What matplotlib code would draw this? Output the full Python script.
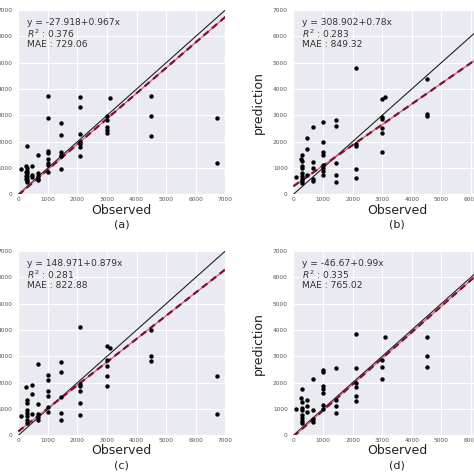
import numpy as np
import matplotlib
matplotlib.use('Agg')
import matplotlib.pyplot as plt
import seaborn as sns

sns.set_style('darkgrid')
plt.rcParams['font.family'] = ['DejaVu Sans']

# observed / predicted values
obs_a = [100, 250, 250, 250, 250, 300, 300, 300, 300, 300, 300, 300, 300,
         450, 450, 450, 650, 650, 650, 650, 650,
         1000, 1000, 1000, 1000, 1000, 1000, 1000, 1000,
         1450, 1450, 1450, 1450, 1450, 1450,
         2100, 2100, 2100, 2100, 2100, 2100, 2100,
         3000, 3000, 3000, 3000, 3000, 3100, 4500, 4500, 4500, 6700, 6700]
pred_a = [950, 1090, 850, 700, 600, 1840, 1000, 900, 800, 700, 600, 500, 450,
          1090, 730, 650, 1500, 800, 700, 600, 550,
          3750, 2900, 1650, 1580, 1330, 1200, 1120, 860,
          2720, 2240, 1620, 1500, 1450, 950,
          3700, 3320, 2290, 2000, 1900, 1800, 1460,
          2970, 2820, 2570, 2450, 2340, 3660, 3750, 2970, 2220, 2900, 1190]

obs_b = [100, 250, 300, 300, 300, 300, 300, 300, 300, 300, 300,
         450, 450, 450, 650, 650, 650, 650, 650,
         1000, 1000, 1000, 1000, 1000, 1000, 1000, 1000,
         1450, 1450, 1450, 1450, 1450,
         2100, 2100, 2100, 2100, 2100,
         3000, 3100, 3000, 3000, 3000, 3000, 3000, 4500, 4500, 4500]
pred_b = [650, 1330, 1280, 1500, 1090, 1000, 800, 700, 600, 500, 420,
          2130, 1710, 740, 2550, 1240, 1000, 600, 500,
          2760, 2000, 1620, 1500, 1110, 1000, 900, 750,
          2820, 2590, 1180, 740, 480,
          4800, 1930, 1850, 950, 610,
          3610, 3710, 2950, 2850, 2530, 2320, 1620, 4370, 3040, 2990]

obs_c = [100, 250, 300, 300, 300, 300, 300, 300, 300,
         450, 450, 450, 650, 650, 650, 650, 650,
         1000, 1000, 1000, 1000, 1000, 1000,
         1450, 1450, 1450, 1450, 1450,
         2100, 2100, 2100, 2100, 2100, 2100,
         3000, 3100, 3000, 3000, 3000, 3000, 4500, 4500, 4500, 6700, 6700]
pred_c = [730, 1830, 1350, 1240, 950, 850, 750, 600, 450,
          1910, 1560, 820, 2720, 1200, 820, 700, 570,
          2280, 2110, 1680, 1480, 1080, 890,
          2780, 2420, 1460, 850, 600,
          4110, 1960, 1870, 1680, 1240, 770,
          3390, 3320, 2850, 2620, 2240, 1890, 3990, 3010, 2840, 2240, 800]

obs_d = [100, 250, 300, 300, 300, 300, 300, 300, 300, 300,
         450, 450, 450, 650, 650, 650, 650,
         1000, 1000, 1000, 1000, 1000, 1000, 1000,
         1450, 1450, 1450, 1450,
         2100, 2100, 2100, 2100, 2100, 2100,
         3100, 3000, 3000, 3000, 4500, 4500, 4500]
pred_d = [1010, 1430, 1750, 1270, 1030, 950, 760, 650, 550, 450,
          1330, 1100, 890, 2150, 970, 630, 510,
          2470, 2410, 1870, 1750, 1610, 1140, 1010,
          2570, 1350, 1100, 860,
          3860, 2570, 2000, 1840, 1480, 1300,
          3730, 2870, 2590, 2150, 3730, 3000, 2590]

intercepts = [-27.918, 308.902, 148.971, -46.67]
slopes = [0.967, 0.78, 0.879, 0.99]
r2_vals = ['0.376', '0.283', '0.281', '0.335']
mae_vals = ['729.06', '849.32', '822.88', '765.02']
eq_texts = ['y = -27.918+0.967x', 'y = 308.902+0.78x',
            'y = 148.971+0.879x', 'y = -46.67+0.99x']
panel_tags = ['(a)', '(b)', '(c)', '(d)']
all_obs = [obs_a, obs_b, obs_c, obs_d]
all_pred = [pred_a, pred_b, pred_c, pred_d]

# figure is "cropped": outer tick labels fall off the canvas
fig = plt.figure(figsize=(4.74, 4.74), dpi=100)
boxes = [[0.0386, 0.590, 0.437, 0.389],
         [0.619, 0.590, 0.437, 0.389],
         [0.0386, 0.0816, 0.437, 0.389],
         [0.619, 0.0816, 0.437, 0.389]]

ticks = np.arange(0, 7001, 1000)
for i in range(4):
    ax = fig.add_axes(boxes[i])
    ax.set_facecolor('#eaeaf2')
    ax.grid(True, color='white', linewidth=0.8)
    ax.set_xlim(0, 7000)
    ax.set_ylim(0, 7000)
    ax.set_xticks(ticks)
    ax.set_yticks(ticks)
    ax.tick_params(labelsize=4.2, colors='#555555', length=0)
    ax.tick_params(axis='x', pad=2)
    ax.tick_params(axis='y', pad=4)

    xs = np.array([0, 7000])
    ax.plot(xs, xs, color='#222222', linewidth=0.8, zorder=3)
    fit = intercepts[i] + slopes[i] * xs
    ax.plot(xs, fit, color='#d86a86', linewidth=1.0, zorder=3)
    ax.plot(xs, fit, color='#7a1232', linewidth=1.6, linestyle=(0, (3, 2)), zorder=4)

    ax.scatter(all_obs[i], all_pred[i], s=10, color='black', zorder=5, linewidths=0)

    ax.text(0.04, 0.955, eq_texts[i] + '\n$R^2$ : ' + r2_vals[i] + '\nMAE : ' + mae_vals[i],
            transform=ax.transAxes, ha='left', va='top', fontsize=6.6,
            color='#333333', linespacing=1.0)

    ax.set_xlabel('Observed', fontsize=9, color='#222222', labelpad=1)
    ax.text(0.5, -0.163, panel_tags[i], transform=ax.transAxes, ha='center',
            va='center', fontsize=8, color='#222222')
    ax.set_ylabel('prediction', fontsize=9, color='#222222', labelpad=6)

fig.savefig('out.png', dpi=100)
